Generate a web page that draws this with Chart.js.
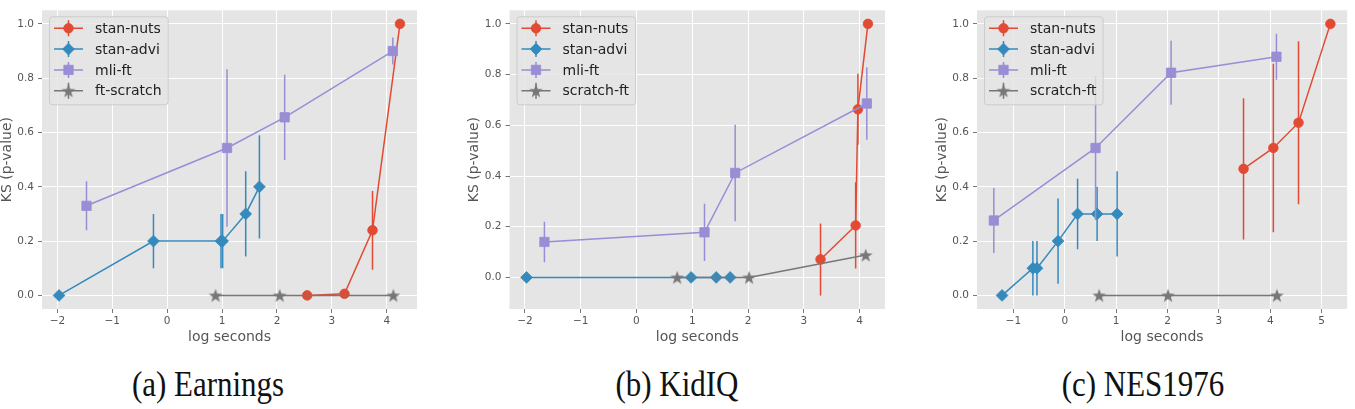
<!DOCTYPE html>
<html>
<head>
<meta charset="utf-8">
<script src="https://cdn.jsdelivr.net/npm/chart.js@4.4.1/dist/chart.umd.min.js"></script>
<style>
  body { margin:0; background:#fff; width:1355px; height:409px; overflow:hidden; position:relative; }
  canvas { position:absolute; top:0; }
  .cap { position:absolute; top:366px; font-family:"Liberation Serif", serif; font-size:36px; line-height:36px; white-space:nowrap; color:#111; transform:translateX(-50%) scaleX(0.86); }
</style>
</head>
<body>
<canvas id="c1" width="450" height="350" style="left:0px"></canvas>
<canvas id="c2" width="450" height="350" style="left:450px"></canvas>
<canvas id="c3" width="455" height="350" style="left:900px"></canvas>
<div class="cap" style="left:208px">(a) Earnings</div>
<div class="cap" style="left:677px">(b) KidIQ</div>
<div class="cap" style="left:1143px">(c) NES1976</div>
<script>
// (a) Earnings
const earnNutsX = [2.55, 3.23, 3.74, 4.24];
const earnNutsY = [0.0, 0.006, 0.24, 1.0];
const earnNutsErr = [0, 0, 0.145, 0];
const earnAdviX = [-1.97, -0.25, 0.98, 1.01, 1.43, 1.68];
const earnAdviY = [0.0, 0.2, 0.2, 0.2, 0.3, 0.4];
const earnAdviErr = [0, 0.1, 0.1, 0.1, 0.157, 0.19];
const earnMliX = [-1.47, 1.09, 2.14, 4.11];
const earnMliY = [0.33, 0.543, 0.656, 0.90];
const earnMliErr = [0.09, 0.29, 0.157, 0.05];
const earnScratchX = [0.88, 2.05, 4.12];
const earnScratchY = [0, 0, 0];
const earnScratchErr = [0, 0, 0];

// (b) KidIQ
const kidNutsX = [3.30, 3.93, 3.97, 4.15];
const kidNutsY = [0.071, 0.205, 0.663, 1.0];
const kidNutsErr = [0.142, 0.17, 0.14, 0];
const kidAdviX = [-1.97, 0.98, 1.43, 1.68];
const kidAdviY = [0, 0, 0, 0];
const kidAdviErr = [0, 0, 0, 0];
const kidMliX = [-1.65, 1.22, 1.77, 4.13];
const kidMliY = [0.14, 0.178, 0.412, 0.686];
const kidMliErr = [0.08, 0.113, 0.19, 0.143];
const kidScratchX = [0.73, 2.02, 4.11];
const kidScratchY = [0, 0, 0.088];
const kidScratchErr = [0, 0, 0];

// (c) NES1976
const nesNutsX = [3.48, 4.06, 4.55, 5.17];
const nesNutsY = [0.466, 0.543, 0.636, 1.0];
const nesNutsErr = [0.26, 0.31, 0.30, 0];
const nesAdviX = [-1.22, -0.62, -0.54, -0.13, 0.25, 0.63, 1.02];
const nesAdviY = [0, 0.1, 0.1, 0.2, 0.3, 0.3, 0.3];
const nesAdviErr = [0, 0.1, 0.1, 0.157, 0.13, 0.1, 0.157];
const nesMliX = [-1.38, 0.60, 2.07, 4.12];
const nesMliY = [0.276, 0.543, 0.82, 0.879];
const nesMliErr = [0.12, 0.265, 0.118, 0.085];
const nesScratchX = [0.67, 2.01, 4.13];
const nesScratchY = [0, 0, 0];
const nesScratchErr = [0, 0, 0];

const earnLabels = ['stan-nuts', 'stan-advi', 'mli-ft', 'ft-scratch'];
const kidLabels = ['stan-nuts', 'stan-advi', 'mli-ft', 'scratch-ft'];
const nesLabels = ['stan-nuts', 'stan-advi', 'mli-ft', 'scratch-ft'];

const earnXTicks = [-2, -1, 0, 1, 2, 3, 4];
const kidXTicks = [-2, -1, 0, 1, 2, 3, 4];
const nesXTicks = [-1, 0, 1, 2, 3, 4, 5];
const yTicks = [0, 0.2, 0.4, 0.6, 0.8, 1.0];

Chart.defaults.font.family = 'DejaVu Sans';

const colors = ['#E24A33', '#348ABD', '#988ED5', '#777777'];

// filled 5 point star like matplotlib '*'
function starImage(color) {
  const c = document.createElement('canvas');
  c.width = 16; c.height = 16;
  const g = c.getContext('2d');
  g.fillStyle = color;
  g.beginPath();
  for (let i = 0; i < 10; i++) {
    const r = i % 2 ? 2.9 : 7.2;
    const a = -Math.PI / 2 + i * Math.PI / 5;
    g.lineTo(8 + r * Math.cos(a), 8.6 + r * Math.sin(a));
  }
  g.closePath();
  g.fill();
  return c;
}
const styles = [
  { pointStyle: 'circle', radius: 4.8 },
  { pointStyle: 'rectRot', radius: 5.9 },
  { pointStyle: 'rect', radius: 6.6 },
  { pointStyle: starImage('#777777'), radius: 7 },
];

function series(xs, ys, errs, i, label) {
  return {
    label: label,
    data: xs.map((x, k) => ({ x: x, y: ys[k] })),
    err: errs,
    showLine: true,
    borderColor: colors[i],
    backgroundColor: colors[i],
    borderWidth: 1.5,
    pointStyle: styles[i].pointStyle,
    pointRadius: styles[i].radius,
    pointHoverRadius: styles[i].radius,
    pointBorderWidth: 0.8,
    pointBorderColor: colors[i],
    pointBackgroundColor: colors[i],
    order: 3 - i,
  };
}

// 5% margins like matplotlib autoscale
function limits(sets) {
  let x0 = Infinity, x1 = -Infinity, y0 = Infinity, y1 = -Infinity;
  sets.forEach(s => s.data.forEach((p, k) => {
    x0 = Math.min(x0, p.x); x1 = Math.max(x1, p.x);
    y0 = Math.min(y0, p.y - s.err[k]); y1 = Math.max(y1, p.y + s.err[k]);
  }));
  const dx = (x1 - x0) * 0.05, dy = (y1 - y0) * 0.05;
  return { x0: x0 - dx, x1: x1 + dx, y0: y0 - dy, y1: y1 + dy };
}

const bgPlugin = {
  id: 'bg',
  beforeDraw(chart) {
    const a = chart.chartArea, ctx = chart.ctx;
    ctx.save();
    ctx.fillStyle = '#E5E5E5';
    ctx.fillRect(a.left, a.top, a.right - a.left, a.bottom - a.top);
    ctx.restore();
  }
};

const errPlugin = {
  id: 'errbars',
  beforeDatasetDraw(chart, args) {
    const ds = chart.data.datasets[args.index];
    const xs = chart.scales.x, ys = chart.scales.y, a = chart.chartArea, ctx = chart.ctx;
    ctx.save();
    ctx.beginPath();
    ctx.rect(a.left, a.top, a.right - a.left, a.bottom - a.top);
    ctx.clip();
    ctx.strokeStyle = ds.borderColor;
    ctx.lineWidth = 1.5;
    ds.data.forEach((p, k) => {
      const e = ds.err[k];
      if (!e) return;
      const px = xs.getPixelForValue(p.x);
      ctx.beginPath();
      ctx.moveTo(px, ys.getPixelForValue(p.y - e));
      ctx.lineTo(px, ys.getPixelForValue(p.y + e));
      ctx.stroke();
    });
    ctx.restore();
  }
};

const legendPlugin = {
  id: 'mplLegend',
  afterDraw(chart) {
    const ctx = chart.ctx, a = chart.chartArea;
    const L = a.left, T = a.top;
    ctx.save();
    ctx.font = '14px "DejaVu Sans"';
    let tw = 0;
    chart.data.datasets.forEach(ds => { tw = Math.max(tw, ctx.measureText(ds.label).width); });
    const bx = L + 7, by = T + 6, bw = tw + 52, bh = 88;
    ctx.beginPath();
    ctx.roundRect(bx + 0.5, by + 0.5, bw, bh, 3);
    ctx.fillStyle = 'rgba(229,229,229,0.8)';
    ctx.fill();
    ctx.strokeStyle = '#cccccc';
    ctx.lineWidth = 1;
    ctx.stroke();
    chart.data.datasets.forEach((ds, i) => {
      const y = T + 18 + i * 20.8;
      const mx = L + 26.5;
      ctx.strokeStyle = ds.borderColor;
      ctx.lineWidth = 1.5;
      ctx.beginPath();
      ctx.moveTo(L + 12, y); ctx.lineTo(L + 41, y);
      ctx.moveTo(mx, y - 8); ctx.lineTo(mx, y + 8);
      ctx.stroke();
      ctx.fillStyle = ds.backgroundColor;
      ctx.lineWidth = 0.8;
      Chart.helpers.drawPoint(ctx, { pointStyle: ds.pointStyle, radius: ds.pointRadius, rotation: 0, borderWidth: 0.8 }, mx, y);
      ctx.fillStyle = '#222222';
      ctx.textBaseline = 'middle';
      ctx.fillText(ds.label, L + 53, y + 1);
    });
    ctx.restore();
  }
};

function fmtX(v) { return v < 0 ? '\u2212' + Math.abs(v) : String(v); }

function makePanel(id, datasets, xTicks, padLeft, padRight) {
  const lim = limits(datasets);
  const tickFont = { size: 10.5 };
  return new Chart(document.getElementById(id), {
    type: 'scatter',
    data: { datasets: datasets },
    options: {
      responsive: false,
      animation: false,
      layout: { padding: { left: padLeft, right: padRight, top: 2, bottom: 6 } },
      plugins: { legend: { display: false }, tooltip: { enabled: false } },
      scales: {
        x: {
          type: 'linear', min: lim.x0, max: lim.x1,
          afterBuildTicks: s => { s.ticks = xTicks.map(v => ({ value: v })); },
          afterFit: s => { s.height = 35; },
          ticks: { font: tickFont, color: '#555555', padding: 2, callback: fmtX },
          grid: { color: '#ffffff', lineWidth: 1, tickColor: '#555555', tickLength: 4, tickWidth: 0.8 },
          border: { display: false },
          title: { display: true, text: 'log seconds', color: '#555555', font: { size: 14, lineHeight: 1 }, padding: 0 }
        },
        y: {
          type: 'linear', min: lim.y0, max: lim.y1,
          afterBuildTicks: s => { s.ticks = yTicks.map(v => ({ value: v })); },
          afterFit: s => { s.width = 42; },
          ticks: { font: tickFont, color: '#555555', padding: 4, callback: v => v.toFixed(1) },
          grid: { color: '#ffffff', lineWidth: 1, tickColor: '#555555', tickLength: 4, tickWidth: 0.8 },
          border: { display: false },
          title: { display: true, text: 'KS (p-value)', color: '#555555', font: { size: 14, lineHeight: 1 }, padding: 0 }
        }
      }
    },
    plugins: [bgPlugin, errPlugin, legendPlugin]
  });
}

makePanel('c1', [
  series(earnNutsX, earnNutsY, earnNutsErr, 0, earnLabels[0]),
  series(earnAdviX, earnAdviY, earnAdviErr, 1, earnLabels[1]),
  series(earnMliX, earnMliY, earnMliErr, 2, earnLabels[2]),
  series(earnScratchX, earnScratchY, earnScratchErr, 3, earnLabels[3]),
], earnXTicks, 0, 33);

makePanel('c2', [
  series(kidNutsX, kidNutsY, kidNutsErr, 0, kidLabels[0]),
  series(kidAdviX, kidAdviY, kidAdviErr, 1, kidLabels[1]),
  series(kidMliX, kidMliY, kidMliErr, 2, kidLabels[2]),
  series(kidScratchX, kidScratchY, kidScratchErr, 3, kidLabels[3]),
], kidXTicks, 17.5, 15);

makePanel('c3', [
  series(nesNutsX, nesNutsY, nesNutsErr, 0, nesLabels[0]),
  series(nesAdviX, nesAdviY, nesAdviErr, 1, nesLabels[1]),
  series(nesMliX, nesMliY, nesMliErr, 2, nesLabels[2]),
  series(nesScratchX, nesScratchY, nesScratchErr, 3, nesLabels[3]),
], nesXTicks, 35, 3);
</script>
</body>
</html>
